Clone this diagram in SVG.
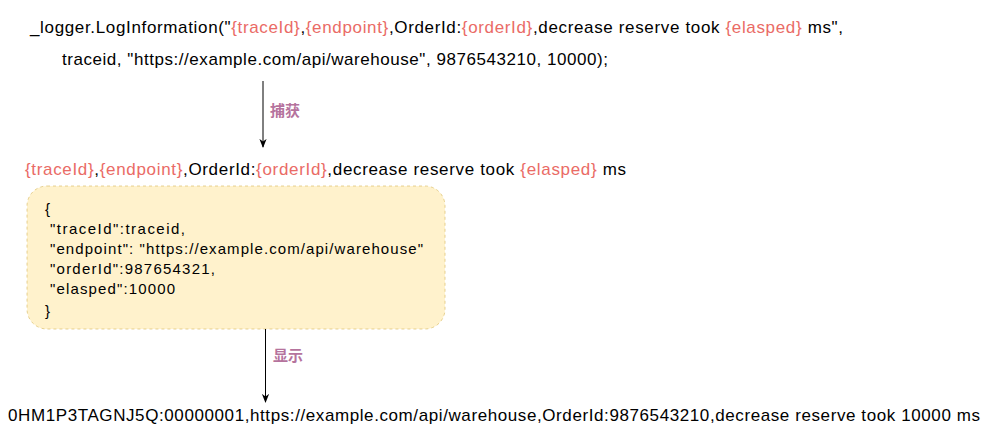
<svg xmlns="http://www.w3.org/2000/svg" width="996" height="442" viewBox="0 0 996 442">
<defs>
<style>
.t{font-family:"Liberation Sans","Noto Sans",sans-serif;font-size:17px;fill:#000}
.b{font-family:"Liberation Sans","Noto Sans",sans-serif;font-size:15px;fill:#000}
.r{fill:#ea6b66}
.lab{font-family:"Noto Sans CJK SC","Noto Sans",sans-serif;font-size:15px;font-weight:bold;fill:#b5739d}
.edge{stroke:#000;stroke-width:1;fill:none}
</style>
<marker id="ah" viewBox="0 0 10 10" refX="9" refY="5" markerWidth="9" markerHeight="9" orient="auto" markerUnits="userSpaceOnUse">
<path d="M0,1 L10,5 L0,9 L3,5 z" fill="#000"/>
</marker>
</defs>
<rect width="996" height="442" fill="#fff"/>
<g id="code">
<text class="t" x="30" y="33" textLength="813" lengthAdjust="spacing">_logger.LogInformation("<tspan class="r">{traceId}</tspan>,<tspan class="r">{endpoint}</tspan>,OrderId:<tspan class="r">{orderId}</tspan>,decrease reserve took <tspan class="r">{elasped}</tspan> ms",</text>
<text class="t" x="62" y="65" textLength="546" lengthAdjust="spacing">traceid, "https://example.com/api/warehouse", 9876543210, 10000);</text>
</g>
<g id="template">
<text class="t" x="25" y="175" textLength="601" lengthAdjust="spacing"><tspan class="r">{traceId}</tspan>,<tspan class="r">{endpoint}</tspan>,OrderId:<tspan class="r">{orderId}</tspan>,decrease reserve took <tspan class="r">{elasped}</tspan> ms</text>
</g>
<g id="props">
<rect x="27" y="186" width="418" height="143" rx="20" ry="20" fill="#fff2cc" stroke="#d6b656" stroke-dasharray="3 3" stroke-opacity="0.6"/>
<text class="b" x="45" y="214">{</text>
<text class="b" x="50" y="234" textLength="135" lengthAdjust="spacing">"traceId":traceid,</text>
<text class="b" x="50" y="254" textLength="373" lengthAdjust="spacing">"endpoint": "https://example.com/api/warehouse"</text>
<text class="b" x="50" y="274" textLength="165" lengthAdjust="spacing">"orderId":987654321,</text>
<text class="b" x="50" y="294" textLength="125" lengthAdjust="spacing">"elasped":10000</text>
<text class="b" x="45" y="316">}</text>
</g>
<g id="output">
<text class="t" x="8" y="421" textLength="972" lengthAdjust="spacing">0HM1P3TAGNJ5Q:00000001,https://example.com/api/warehouse,OrderId:9876543210,decrease reserve took 10000 ms</text>
</g>
<g id="connectors">
<line class="edge" x1="263" y1="81" x2="263" y2="147" marker-end="url(#ah)"/>
<text class="lab" x="270" y="116">捕获</text>
<line class="edge" x1="265.5" y1="329" x2="265.5" y2="402" marker-end="url(#ah)"/>
<text class="lab" x="273" y="361">显示</text>
</g>
</svg>
